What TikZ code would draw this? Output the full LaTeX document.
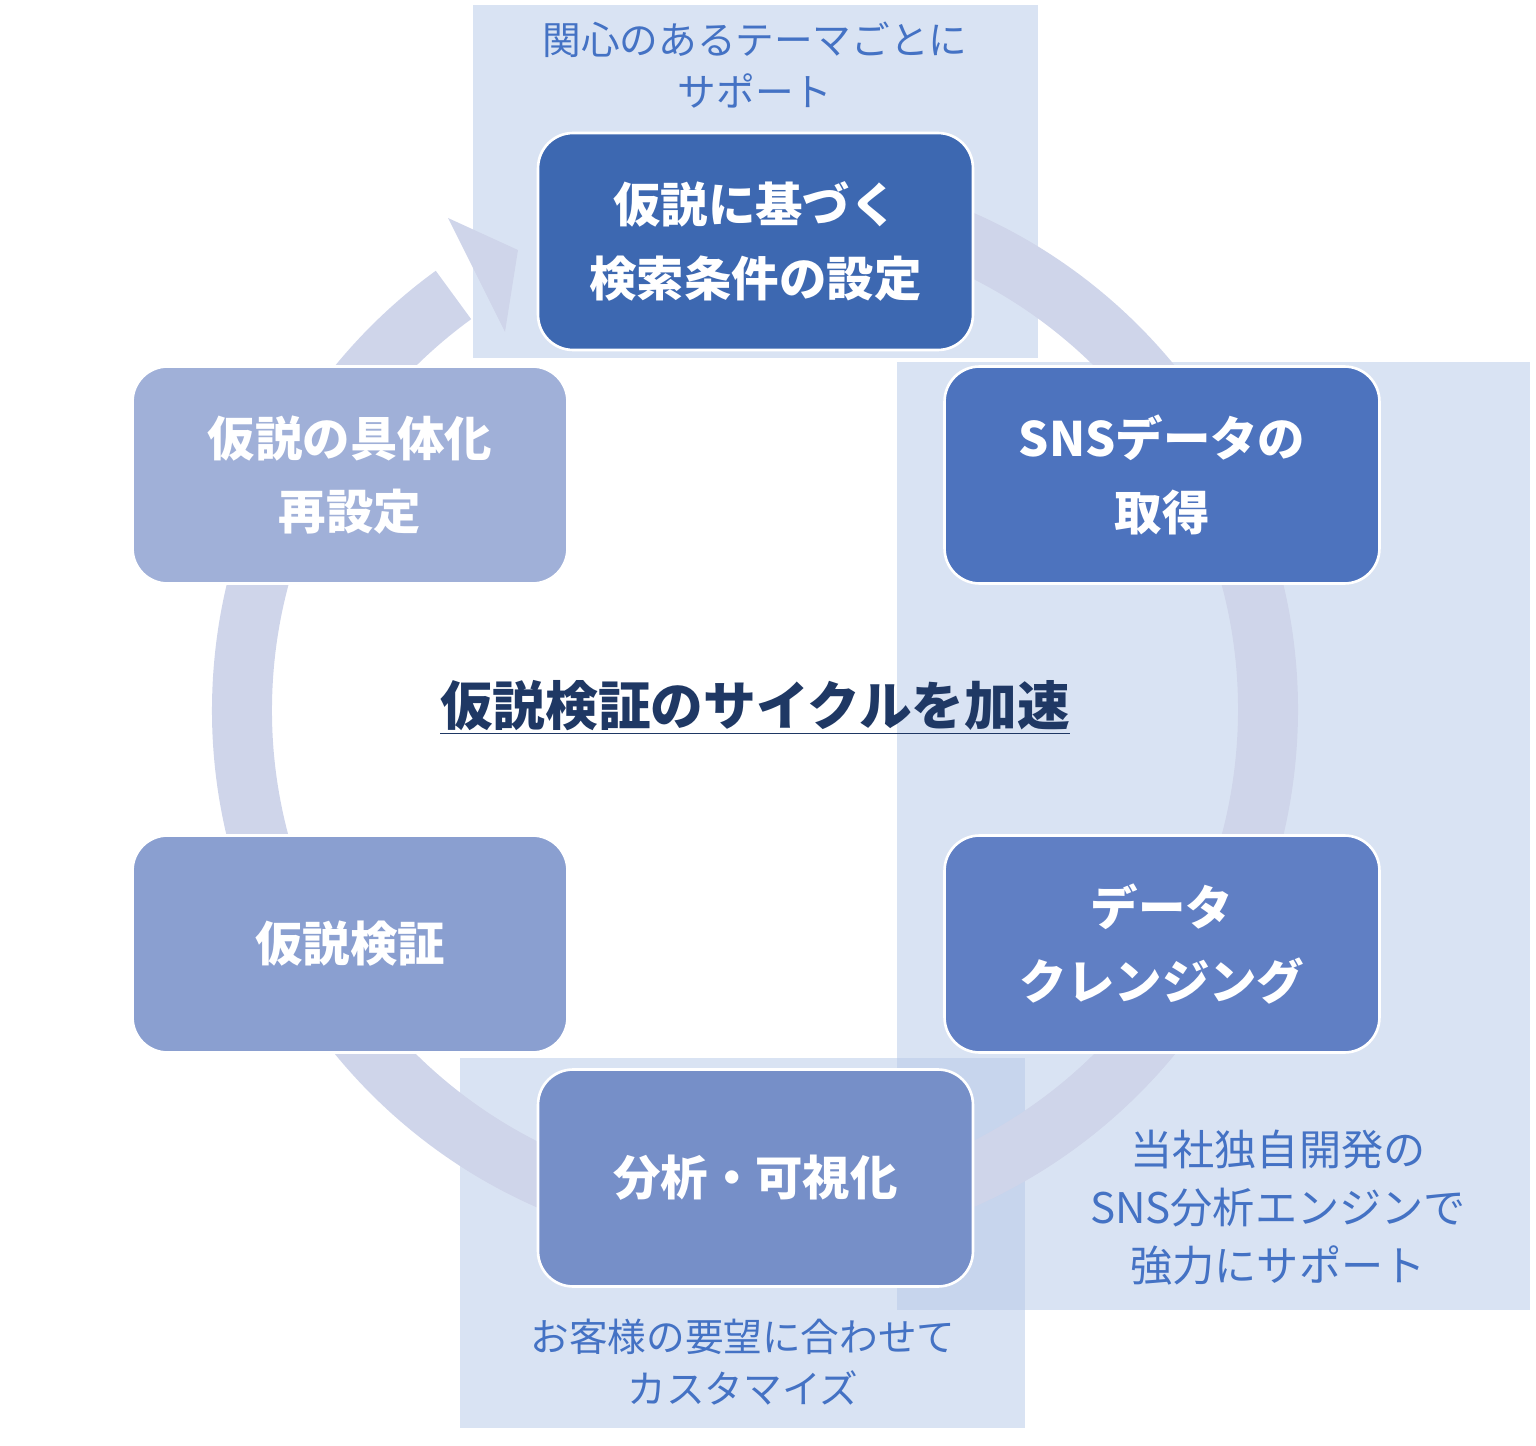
\documentclass[tikz,border=0pt]{standalone}
\usepackage{fontspec}
\setmainfont{Noto Sans CJK JP}
\usepackage{tikz}

\definecolor{bgblue}{RGB}{180,199,231}
\definecolor{ringcol}{RGB}{207,213,234}
\definecolor{labelcol}{RGB}{68,114,196}
\definecolor{navy}{RGB}{31,56,100}
\definecolor{stepA}{RGB}{61,104,177}
\definecolor{stepB}{RGB}{77,115,190}
\definecolor{stepC}{RGB}{96,127,196}
\definecolor{stepD}{RGB}{118,143,200}
\definecolor{stepE}{RGB}{138,159,208}
\definecolor{stepF}{RGB}{160,176,216}

\tikzset{
  stage/.style={draw=white, line width=1.5pt, rounded corners=0.7cm,
    minimum width=8.7cm, minimum height=4.34cm, text=white, align=center,
    font=\bfseries\fontsize{27}{42}\selectfont},
  note/.style={text=labelcol, align=center, font=\fontsize{22}{30}\selectfont},
  zone/.style={fill=bgblue, fill opacity=0.5}
}

\begin{document}
\begin{tikzpicture}[x=0.02cm,y=-0.02cm]
\useasboundingbox (0,0) rectangle (1536,1446);

% support zones
\fill[zone] (473,5) rectangle (1038,358);
\fill[zone] (897,362) rectangle (1530,1310);
\fill[zone] (460,1058) rectangle (1025,1428);

% cycle ring
\coordinate (ctr) at (755,710);
\draw[ringcol, line width=1.2cm] (ctr) ++(-85:513) arc[start angle=-85, end angle=234, radius=513];
\fill[ringcol] (448,218) -- (518,250) -- (505,332) -- cycle;

% stages
\node[stage, fill=stepA] (plan) at (755.5,241.5) {仮説に基づく\\検索条件の設定};
\node[stage, fill=stepB] (fetch) at (1162,475) {SNSデータの\\取得};
\node[stage, fill=stepC] (clean) at (1162,944) {データ\\クレンジング};
\node[stage, fill=stepD] (viz) at (755.5,1178) {分析・可視化};
\node[stage, fill=stepE] (verify) at (350,944) {仮説検証};
\node[stage, fill=stepF] (reset) at (350,475) {仮説の具体化\\再設定};

% centre title
\node[text=navy, font=\bfseries\fontsize{30}{36}\selectfont] (title) at (755,707) {\underline{仮説検証のサイクルを加速}};

% zone notes
\node[note] (topnote) at (755,65) {関心のあるテーマごとに\\サポート};
\node[note] (botnote) at (743,1362) {お客様の要望に合わせて\\カスタマイズ};
\node[note, font=\fontsize{24}{33}\selectfont] (rightnote) at (1278,1208) {当社独自開発の\\SNS分析エンジンで\\強力にサポート};
\end{tikzpicture}
\end{document}
